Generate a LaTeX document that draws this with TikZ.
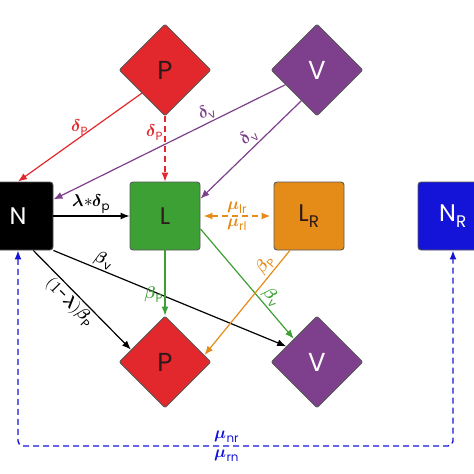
\documentclass[tikz,border=0pt]{standalone}
\usepackage{fontspec}
\usepackage{unicode-math}
\setmainfont{Poppins}
\setmathfont{Latin Modern Math}
\usetikzlibrary{shapes.geometric,arrows.meta,positioning}
\definecolor{cP}{HTML}{E2282C}
\definecolor{cV}{HTML}{7E3F8C}
\definecolor{cL}{HTML}{3DA035}
\definecolor{cLR}{HTML}{E58B17}
\definecolor{cNR}{HTML}{1414D8}
\definecolor{txtdark}{HTML}{2E1A1A}
\tikzset{
 box/.style
  = {rectangle, draw=black!65, rounded corners=3pt, minimum width=70pt,
     minimum height=68pt, inner sep=0pt, line width=0.9pt,
     font=\fontsize{24}{24}\selectfont},
 dia/.style
  = {diamond, draw=black!65, rounded corners=2pt, minimum width=92pt,
     minimum height=92pt, inner sep=0pt, line width=0.9pt,
     font=\fontsize{26}{26}\selectfont},
 l/.style
  = {draw, -{Latex[length=9pt,width=7pt]}, line width=1.2pt},
 ll/.style
  = {draw, {Latex[length=9pt,width=7pt]}-{Latex[length=9pt,width=7pt]},
     line width=1.4pt, dash pattern=on 6pt off 4pt},
 lab/.style
  = {font=\fontsize{17}{17}\selectfont, inner sep=1.5pt},
}

\begin{document}
\begin{tikzpicture}[x=1pt,y=-1pt]
\useasboundingbox (0,0) rectangle (474,474);
\clip (0,0) rectangle (474,474);

% Top row
\node[dia,fill=cP,text=txtdark] (Pt) at (165,70) {P};
\node[dia,fill=cV,text=white] (Vt) at (317,70) {V};

% Middle row
\node[box,fill=black,text=white] (N) at (18,216) {N};
\node[box,fill=cL,text=txtdark] (L) at (165,216) {L};
\node[box,fill=cLR,text=txtdark] (LR) at (309,216) {L\textsubscript{R}};
\node[box,fill=cNR,text=white] (NR) at (453,216) {N\textsubscript{R}};

% Bottom row
\node[dia,fill=cP,text=txtdark] (Pb) at (165,362) {P};
\node[dia,fill=cV,text=white] (Vb) at (317,362) {V};

% From top P
\draw[l,cP] (Pt.south west) -- node[lab,above,pos=0.5]{$\symbfit{\delta}_{\text{P}}$} (N.north);
\draw[l,cP,dash pattern=on 6pt off 4pt] (Pt.south) -- node[lab,left,pos=0.25]{$\symbfit{\delta}_{\text{P}}$} (L.north);

% From top V
\draw[l,cV] (Vt.205) -- node[lab,above,sloped,pos=0.32]{$\symbfit{\delta}_{\text{v}}$} (N.25);
\draw[l,cV] (Vt.243) -- node[lab,above,sloped,pos=0.45]{$\symbfit{\delta}_{\text{v}}$} (L.26);

% Middle row links
\draw[l] (N.east) -- node[lab,above]{$\symbfit{\lambda}{*}\symbfit{\delta}_{\text{p}}$} (L.west);
\draw[ll,cLR,shorten <=3pt,shorten >=3pt] (L.east) -- node[lab,above,inner sep=2pt]{$\symbfit{\mu}_{\text{lr}}$} node[lab,below,inner sep=2pt]{$\symbfit{\mu}_{\text{rl}}$} (LR.west);

% Down to bottom row
\draw[l] (N.-66) -- node[lab,below,sloped,pos=0.45]{$(1\text{-}\symbfit{\lambda})\symbfit{\beta}_{\text{P}}$} (Pb.160);
\draw[l] (N.south east) -- node[lab,above,sloped,pos=0.2]{$\symbfit{\beta}_{\text{v}}$} (Vb.153);
\draw[l,cL] (L.south) -- node[lab,left,pos=0.68]{$\symbfit{\beta}_{\text{P}}$} (Pb.north);
\draw[l,cL] (L.-20) -- node[lab,above,sloped,pos=0.68]{$\symbfit{\beta}_{\text{v}}$} (Vb.north west);
\draw[l,cLR] (LR.241) -- node[lab,above,sloped,pos=0.2]{$\symbfit{\beta}_{\text{P}}$} (Pb.10);

% N <-> NR loop
\coordinate (base) at (0,446);
\draw[ll,cNR,rounded corners=5pt] (N.south) -- (N.south |- base)
  -- node[lab,above,pos=0.48,inner sep=3pt]{$\symbfit{\mu}_{\text{nr}}$}
     node[lab,below,pos=0.48,inner sep=3pt]{$\symbfit{\mu}_{\text{rn}}$} (NR.south |- base)
  -- (NR.south);

\end{tikzpicture}
\end{document}
